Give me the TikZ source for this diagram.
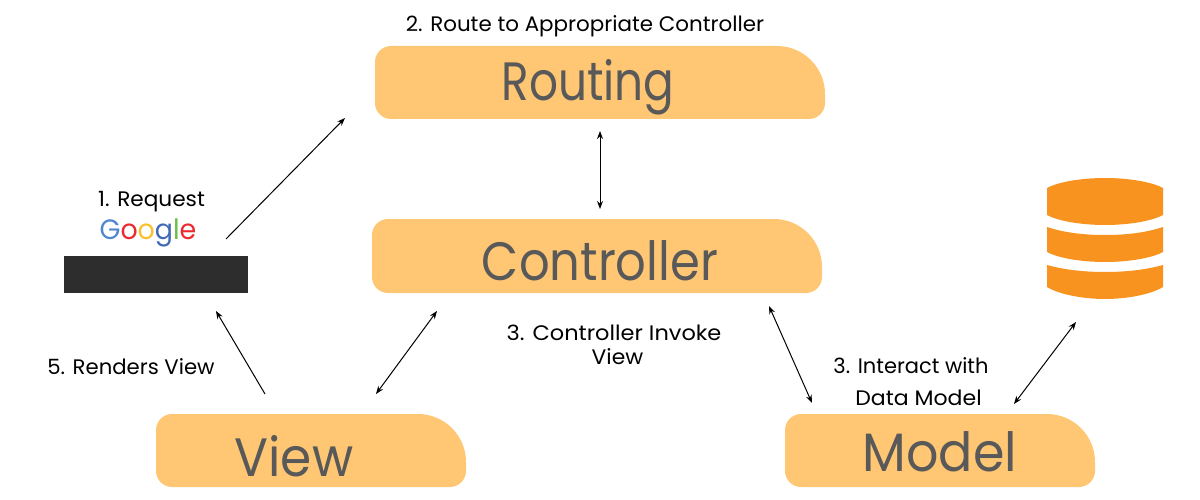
\documentclass[tikz,border=0pt]{standalone}
\usepackage{fontspec}
\setmainfont{Poppins}
\usetikzlibrary{arrows.meta}
\definecolor{boxfill}{HTML}{FFC774}
\definecolor{boxtext}{HTML}{595959}
\definecolor{dbfill}{HTML}{F7931E}
\definecolor{bar}{HTML}{2D2D2D}
\tikzset{
  x=1pt,y=-1pt,
  lbl/.style={anchor=base,inner sep=0pt,text=black,font=\fontsize{21}{25}\selectfont},
  boxlbl/.style={anchor=center,inner sep=0pt,text=boxtext,font=\fontsize{54}{60}\selectfont},
  conn/.style={line width=1pt,black,-{Stealth[length=8pt,width=6pt]}},
  biconn/.style={line width=1pt,black,{Stealth[length=8pt,width=6pt]}-{Stealth[length=8pt,width=6pt]}},
}
\newcommand{\tagbox}[4]{% x0 y0 x1 y1
  \fill[boxfill] (#1+16,#2) -- (#3-48,#2)
    .. controls (#3-21.5,#2) and (#3,#2+21.5) .. (#3,#2+48) -- (#3,#4-16)
    .. controls (#3,#4-7.2) and (#3-7.2,#4) .. (#3-16,#4) -- (#1+16,#4)
    .. controls (#1+7.2,#4) and (#1,#4-7.2) .. (#1,#4-16) -- (#1,#2+16)
    .. controls (#1,#2+7.2) and (#1+7.2,#2) .. (#1+16,#2) -- cycle;
}
\begin{document}
\begin{tikzpicture}
\useasboundingbox (0,0) rectangle (1200,500);
\tagbox{375}{46}{825}{119}
\tagbox{372}{219}{822}{293}
\tagbox{156}{414}{466}{487}
\tagbox{785}{414}{1095}{487}
\node[boxlbl,xscale=.84] (routing) at (588,87) {Routing};
\node[boxlbl,xscale=.89] (controller) at (600,261) {Controller};
\node[boxlbl,xscale=.93] (view) at (294,456) {View};
\node[boxlbl,xscale=.94] (model) at (940,452) {Model};
\fill[bar] (64,256) rectangle (248,293);
\node[lbl,xscale=1.02] (t2) at (585,32) {2. Route to Appropriate Controller};
\node[lbl,xscale=1.03] (t1) at (151.5,206) {1. Request};
\node[lbl,xscale=1.01] (t5) at (131,374) {5. Renders View};
\node[lbl,xscale=1.07] (t3a) at (614,340) {3. Controller Invoke};
\node[lbl,xscale=1.04] (t3b) at (617.5,364) {View};
\node[lbl] (t4a) at (911,373) {3. Interact with};
\node[lbl,xscale=1.05] (t4b) at (918.5,405) {Data Model};
\node[anchor=base,inner sep=0pt,xscale=.96,font=\fontsize{28}{30}\selectfont] (google) at (148,240)
 {\textcolor[HTML]{4F86D0}{G}\textcolor[HTML]{EA2A2F}{o}\textcolor[HTML]{FBC02D}{o}\textcolor[HTML]{4169B8}{g}\textcolor[HTML]{6CBE45}{l}\textcolor[HTML]{EA2A2F}{e}};
% database
\fill[dbfill] (1047,188) .. controls (1060,181) and (1085,178) .. (1105,178) .. controls (1125,178) and (1150,181) .. (1163,188)
  -- (1163,215) .. controls (1150,222) and (1125,225) .. (1105,225) .. controls (1085,225) and (1060,222) .. (1047,215) -- cycle;
\fill[dbfill] (1047,227) .. controls (1065,233) and (1085,235) .. (1105,235) .. controls (1125,235) and (1145,233) .. (1163,227)
  -- (1163,252) .. controls (1150,259) and (1125,262) .. (1105,262) .. controls (1085,262) and (1060,259) .. (1047,252) -- cycle;
\fill[dbfill] (1047,265) .. controls (1065,270) and (1085,272) .. (1105,272) .. controls (1125,272) and (1145,270) .. (1163,265)
  -- (1163,287) .. controls (1150,295) and (1125,299) .. (1105,299) .. controls (1085,299) and (1060,295) .. (1047,287) -- cycle;
% connector ends
\coordinate (a1) at (226,239); \coordinate (a2) at (345,118);
\coordinate (b1) at (600,131); \coordinate (b2) at (600,209);
\coordinate (c1) at (265,394); \coordinate (c2) at (216,311);
\coordinate (d1) at (376,394); \coordinate (d2) at (437,311);
\coordinate (e1) at (769,306); \coordinate (e2) at (812,403);
\coordinate (f1) at (1014,404); \coordinate (f2) at (1076,322);
\draw[conn] (a1) -- (a2);
\draw[biconn] (b1) -- (b2);
\draw[conn] (c1) -- (c2);
\draw[biconn] (d1) -- (d2);
\draw[biconn] (e1) -- (e2);
\draw[biconn] (f1) -- (f2);
\end{tikzpicture}
\end{document}
